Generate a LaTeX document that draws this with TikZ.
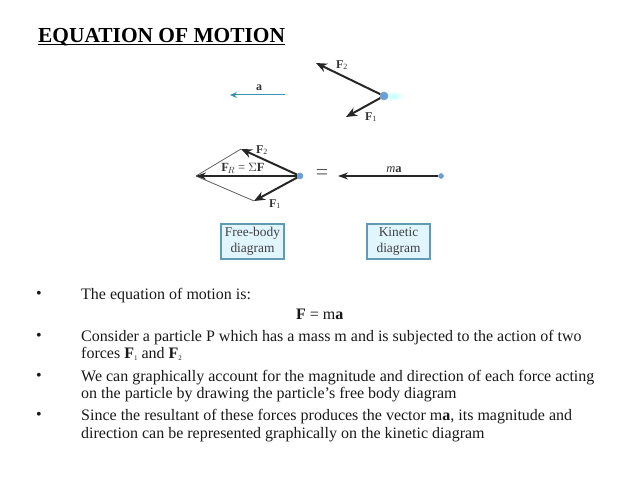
\documentclass[tikz,border=0pt]{standalone}
\usepackage{fontspec}
\setmainfont{Liberation Serif}
\usetikzlibrary{calc,arrows.meta}
\newcommand{\tinysub}[1]{\raisebox{-2pt}{\fontsize{7}{7}\selectfont #1}}
\tikzset{
	body/.style={anchor=base west, inner sep=0pt, font=\fontsize{16}{18}\selectfont, text=black!90},
	fig/.style={inner sep=0pt, font=\fontsize{12}{14}\selectfont, text=black!80},
	force/.style={line width=0.7mm, color=black!85, -{Stealth[length=11pt,width=9pt]}},
	side/.style={line width=0.3mm, color=black!60},
	particle/.style={circle, inner sep=0pt, minimum size=8pt, fill=cyan!55!blue!60, draw=cyan!60!black!70, line width=0.2mm},
	tag/.style={draw=cyan!60!black!80, fill=cyan!12, line width=0.4mm, minimum width=63pt, minimum height=35pt, inner sep=0pt, align=center, font=\fontsize{13.4}{16}\selectfont, text=black!75}
}
\begin{document}
\begin{tikzpicture}[x=1pt,y=-1pt]
		%%%%% START %%%%%
		\useasboundingbox (0, 0) rectangle (638, 478);
		
		\node[anchor=base west, inner sep=0pt, font=\fontsize{21.4}{24}\selectfont\bfseries] (title) at (38, 43) {EQUATION OF MOTION};
		\draw[line width=0.35mm] (38, 45) -- (285, 45);
		
		% top sketch
		\coordinate (aend) at (285, 95);
		\coordinate (atip) at (230, 95);
		\draw[line width=0.35mm, color=cyan!70!black, -{Stealth[length=7pt,width=6pt]}] (aend) -- (atip);
		\node[fig] (alabel) at (259, 88) {\textbf{a}};
		
		\shade[inner color=cyan!25, outer color=white, draw=none] (393, 96) ellipse (12 and 5);
		\coordinate (ftwo) at (316, 63);
		\coordinate (fone) at (346, 117);
		\node[particle] (p) at (384, 96) {};
		\draw[force] (p) -- (ftwo);
		\draw[force] (p) -- (fone);
		\node[fig] (ftwolabel) at (342, 65) {\textbf{F}\textsubscript{2}};
		\node[fig] (fonelabel) at (371, 117) {\textbf{F}\textsubscript{1}};
		
		% free body diagram
		\coordinate (rtip) at (196, 176);
		\coordinate (up) at (241, 149);
		\coordinate (low) at (254, 201);
		\node[particle, minimum size=6pt] (q) at (300, 176) {};
		\draw[side] (rtip) -- (up);
		\draw[side] (rtip) -- (low);
		\draw[force] (q) -- (up);
		\draw[force] (q) -- (low);
		\draw[line width=0.45mm, color=black!85, -{Stealth[length=10pt,width=7pt]}] (q) -- (rtip);
		\node[fig, font=\fontsize{12.5}{14}\selectfont] (frlabel) at (243, 168) {$\mathbf{F}_{\!R}$ = $\Sigma$\textbf{F}};
		\node[fig] (ftwolab) at (262, 150) {\textbf{F}\textsubscript{2}};
		\node[fig] (fonelab) at (275, 204) {\textbf{F}\textsubscript{1}};
		\node[inner sep=0pt, font=\fontsize{22}{22}\selectfont, text=black!65] (eq) at (322, 174) {=};
		
		% kinetic diagram
		\coordinate (mtip) at (338, 176);
		\node[particle, minimum size=5pt] (r) at (441, 176) {};
		\draw[line width=0.45mm, color=black!85, -{Stealth[length=10pt,width=7pt]}] (r) -- (mtip);
		\node[fig, font=\fontsize{12.5}{14}\selectfont] (malabel) at (394, 170) {\textit{m}\textbf{a}};
		
		\node[tag] (free) at (252.5, 241.5) {Free-body\\diagram};
		\node[tag] (kin) at (398.5, 241.5) {Kinetic\\diagram};
		
		% text lines
		\node[body] (b1) at (36, 299) {\textbullet};
		\node[body] (t1) at (81, 299.5) {The equation of motion is:};
		\node[body] (t2) at (296, 320) {\textbf{F} = m\textbf{a}};
		\node[body] (b2) at (36, 341) {\textbullet};
		\node[body] (t3) at (81, 342) {Consider a particle P which has a mass m and is subjected to the action of two};
		\node[body] (t4) at (81, 359) {forces \textbf{F}\tinysub{1} and \textbf{F}\tinysub{2}};
		\node[body] (b3) at (36, 381) {\textbullet};
		\node[body] (t5) at (81, 382) {We can graphically account for the magnitude and direction of each force acting};
		\node[body] (t6) at (81, 399) {on the particle by drawing the particle’s free body diagram};
		\node[body] (b4) at (36, 420) {\textbullet};
		\node[body] (t7) at (81, 421) {Since the resultant of these forces produces the vector m\textbf{a}, its magnitude and};
		\node[body] (t8) at (81, 438.5) {direction can be represented graphically on the kinetic diagram};
		
		%%%%% END %%%%%
	\end{tikzpicture}
\end{document}
